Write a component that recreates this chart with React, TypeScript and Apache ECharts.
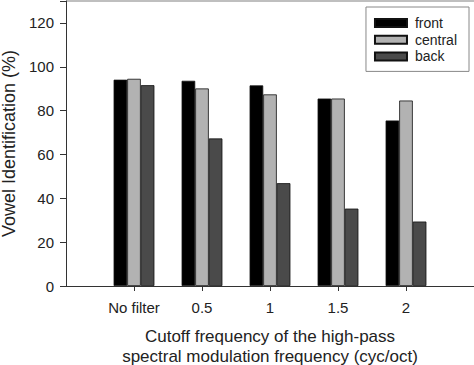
import React, { useEffect, useRef } from "react";
import * as echarts from "echarts";

const categories = ["No filter", "0.5", "1", "1.5", "2"];
const frontValues = [94.1, 93.6, 91.5, 85.5, 75.5];
const centralValues = [94.5, 90.1, 87.4, 85.5, 84.6];
const backValues = [91.6, 67.3, 46.9, 35.3, 29.4];
const yTicks = [0, 20, 40, 60, 80, 100, 120];

const FONT = "'Liberation Sans', Arial, sans-serif";

export default function App() {
  const ref = useRef<HTMLDivElement>(null);
  useEffect(() => {
    document.body.style.margin = "0";
    if (!ref.current) return;
    const chart = echarts.init(ref.current, undefined, { renderer: "svg" });
    const axisData = ["", ...categories, " "];
    const pad = (arr: number[]) => [null, ...arr, null];
    const barStyle = (color: string) => ({
      color,
      borderColor: "#111",
      borderWidth: 0.8,
    });
    chart.setOption({
      animation: false,
      textStyle: { fontFamily: FONT },
      grid: { left: 66, right: 0, top: 1, bottom: 79, outerBoundsMode: "none", containLabel: false },
      legend: {
        orient: "vertical",
        right: 5,
        top: 7,
        itemWidth: 32,
        itemHeight: 8,
        itemGap: 0.7,
        padding: [8, 12, 7, 8],
        borderColor: "#888",
        borderWidth: 1,
        textStyle: {
          fontSize: 14,
          lineHeight: 16,
          color: "#222",
          fontFamily: FONT,
          padding: [0, 0, 0, 3],
        },
        data: ["front", "central", "back"],
        icon: "rect",
      },
      xAxis: {
        type: "category",
        data: axisData,
        boundaryGap: false,
        axisLine: { lineStyle: { color: "#333", width: 1 } },
        axisTick: {
          length: 5,
          lineStyle: { color: "#333" },
          interval: (i: number) => i > 0 && i < axisData.length - 1,
        },
        axisLabel: {
          fontSize: 15,
          color: "#222",
          margin: 14,
          fontFamily: FONT,
          interval: 0,
        },
        name: "Cutoff frequency of the high-pass\nspectral modulation frequency (cyc/oct)",
        nameLocation: "middle",
        nameGap: 41,
        nameTextStyle: { fontSize: 17, lineHeight: 19.5, color: "#222", fontFamily: FONT },
        splitLine: { show: false },
      },
      yAxis: {
        type: "value",
        min: 0,
        max: 130,
        interval: 20,
        axisLine: { show: true, lineStyle: { color: "#333", width: 1 } },
        axisTick: { show: true, length: 6, lineStyle: { color: "#333" } },
        axisLabel: {
          fontSize: 15,
          color: "#222",
          margin: 12,
          fontFamily: FONT,
          formatter: (v: number) => (yTicks.includes(v) ? String(v) : ""),
        },
        splitLine: { show: false },
        name: "Vowel Identification (%)",
        nameLocation: "middle",
        nameGap: 46,
        nameTextStyle: { fontSize: 18, color: "#222", fontFamily: FONT },
      },
      graphic: [
        {
          type: "line",
          shape: { x1: 66, y1: 1, x2: 474, y2: 1 },
          style: { stroke: "#aaa", lineWidth: 1.5 },
        },
      ],
      series: [
        {
          name: "front",
          type: "bar",
          data: pad(frontValues),
          barWidth: 13.6,
          barGap: "0%",
          itemStyle: barStyle("#000"),
        },
        {
          name: "central",
          type: "bar",
          data: pad(centralValues),
          barWidth: 13.6,
          barGap: "0%",
          itemStyle: barStyle("#b2b2b2"),
        },
        {
          name: "back",
          type: "bar",
          data: pad(backValues),
          barWidth: 13.6,
          barGap: "0%",
          itemStyle: barStyle("#4a4a4a"),
        },
      ],
    });
    return () => chart.dispose();
  }, []);
  return <div ref={ref} style={{ width: 474, height: 365 }} />;
}
